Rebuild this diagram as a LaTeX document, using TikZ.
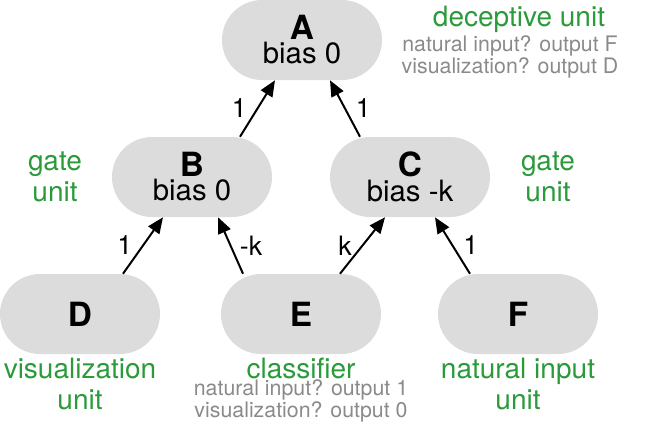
\documentclass[tikz,border=0pt]{standalone}
\usepackage{fontspec}
\setmainfont{TeX Gyre Heros}
\usetikzlibrary{arrows.meta,calc}
\definecolor{boxgray}{HTML}{DCDCDC}
\definecolor{lblgreen}{HTML}{2A9A3A}
\definecolor{txtgray}{HTML}{8A8A8A}
\tikzset{
  unit/.style={fill=boxgray,rounded corners=30pt,minimum width=120pt,minimum height=60pt,align=center,inner sep=0pt},
  conn/.style={line width=1.5pt,-{Triangle[length=12pt,width=10pt]}},
  wlab/.style={font=\fontsize{20}{20}\selectfont},
  glab/.style={text=lblgreen,font=\fontsize{21}{23}\selectfont,align=center},
  slab/.style={text=txtgray,font=\fontsize{16}{15}\selectfont,align=center}
}
\newcommand{\ub}[2]{\fontsize{25}{26}\selectfont\bfseries #1\\[1pt]{\fontsize{22}{22}\selectfont\mdseries #2}}
\begin{document}
\begin{tikzpicture}[x=0.75pt,y=-0.75pt]
\useasboundingbox (0,0) rectangle (646,426);
\node[unit] (A) at (302,40) {\ub{A}{bias 0}};
\node[unit] (B) at (192,177) {\ub{B}{bias 0}};
\node[unit] (C) at (410,177) {\ub{C}{bias -k}};
\node[unit] (D) at (80,314) {{\fontsize{25}{26}\selectfont\bfseries D}};
\node[unit] (E) at (301,314) {{\fontsize{25}{26}\selectfont\bfseries E}};
\node[unit] (F) at (518,314) {{\fontsize{25}{26}\selectfont\bfseries F}};
\draw[conn] ($(B.north)+(48,0)$) -- ($(A.south)+(-27,0)$) node[wlab,midway,left=4pt] (l1) {1};
\draw[conn] ($(C.north)+(-50,0)$) -- ($(A.south)+(28,0)$) node[wlab,midway,right=4pt] (l2) {1};
\draw[conn] ($(D.north)+(43,0)$) -- ($(B.south)+(-29,0)$) node[wlab,midway,left=4pt] (l3) {1};
\draw[conn] ($(E.north)+(-58,0)$) -- ($(B.south)+(26,0)$) node[wlab,midway,right=3pt] (l4) {-k};
\draw[conn] ($(E.north)+(39,0)$) -- ($(C.south)+(-25,0)$) node[wlab,midway,left=4pt] (l5) {k};
\draw[conn] ($(F.north)+(-48,0)$) -- ($(C.south)+(25,0)$) node[wlab,midway,right=4pt] (l6) {1};
\node[glab] (ta) at (519,19) {deceptive unit};
\node[slab] (sa) at (510,57) {natural input? output F\\visualization? output D};
\node[glab] (gb) at (55,177) {gate\\unit};
\node[glab] (gc) at (548,177) {gate\\unit};
\node[glab] (gd) at (80,384) {visualization\\unit};
\node[glab] (ge) at (301,368) {classifier};
\node[slab] (se) at (301,401) {natural input? output 1\\visualization? output 0};
\node[glab] (gf) at (518,384) {natural input\\unit};
\end{tikzpicture}
\end{document}
